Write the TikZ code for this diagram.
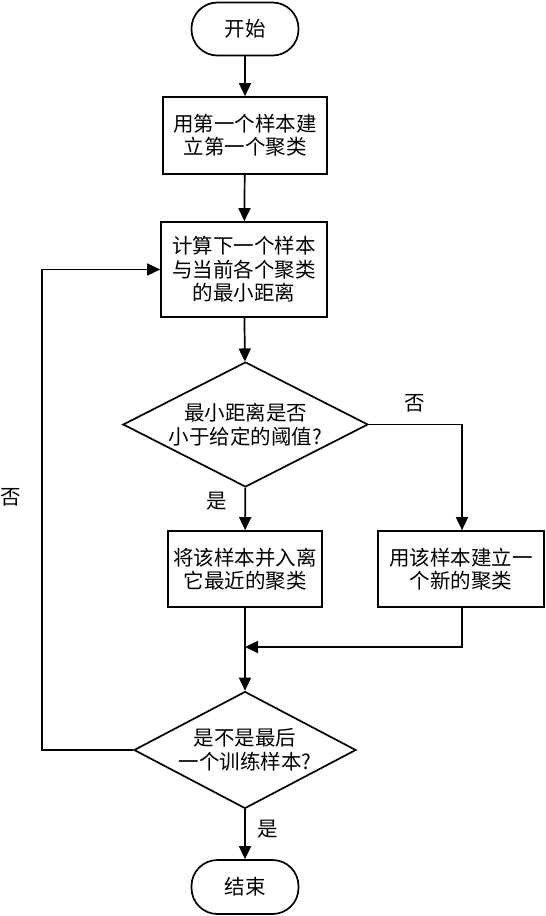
\documentclass[tikz,border=0pt]{standalone}
\usepackage{fontspec}
\setmainfont{Noto Sans CJK SC}
\usetikzlibrary{arrows.meta,shapes.geometric}
\begin{document}
\begin{tikzpicture}[x=1pt,y=-1pt,
  every node/.style={font=\fontsize{20.5pt}{23.5pt}\selectfont},
  box/.style={draw,line width=1.7pt,rectangle,inner sep=0pt,align=center},
  term/.style={draw,line width=1.7pt,rectangle,rounded corners=26pt,inner sep=0pt,align=center},
  dec/.style={draw,line width=1.7pt,diamond,inner sep=0pt},
  conn/.style={line width=1.7pt,-{Triangle[length=13pt,width=12pt]}},
  lbl/.style={inner sep=0pt,align=center}]
\useasboundingbox (0,0) rectangle (546,916);
\node[term,minimum width=107pt,minimum height=53pt] (start) at (245,29) {开始};
\node[box,minimum width=164pt,minimum height=77pt] (b1) at (245,135.5) {用第一个样本建\\立第一个聚类};
\node[box,minimum width=166pt,minimum height=95pt] (b2) at (244,269.5) {计算下一个样本\\与当前各个聚类\\的最小距离};
\node[dec,minimum width=245pt,minimum height=125pt] (d1) at (245.5,424.5) {};
\node[lbl] (d1t) at (d1) {最小距离是否\\小于给定的阈值?};
\node[box,minimum width=154pt,minimum height=76pt] (b3) at (245,569) {将该样本并入离\\它最近的聚类};
\node[box,minimum width=166pt,minimum height=76pt] (b4) at (461,569) {用该样本建立一\\个新的聚类};
\node[dec,minimum width=222pt,minimum height=117pt] (d2) at (245,750) {};
\node[lbl] (d2t) at (d2) {是不是最后\\一个训练样本?};
\node[term,minimum width=107pt,minimum height=54pt] (end) at (245,887) {结束};
\coordinate (c1) at (462,424.5);
\coordinate (c2) at (462,647);
\coordinate (merge) at (245,647);
\coordinate (c3) at (42,750);
\node[lbl] (yes1) at (217,501) {是};
\node[lbl] (no1) at (415,403) {否};
\node[lbl] (no2) at (11,497) {否};
\node[lbl] (yes2) at (268,829) {是};
\draw[conn] (start) -- (b1);
\draw[conn] (b1) -- (b2);
\draw[conn] (b2) -- (d1);
\draw[conn] (d1) -- (b3);
\draw[conn] (d1.east) -- (c1) -- (b4.north -| c1);
\draw[conn] (b3) -- (d2);
\draw[conn] (b4.south -| c1) -- (c2) -- (merge);
\draw[conn] (d2.west) -- (c3) |- (b2.west);
\draw[conn] (d2) -- (end);
\end{tikzpicture}
\end{document}
